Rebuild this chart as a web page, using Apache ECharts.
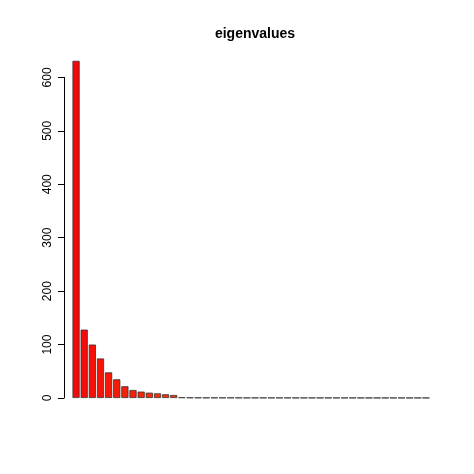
<!DOCTYPE html>
<html>
<head>
<meta charset="utf-8">
<script src="https://cdn.jsdelivr.net/npm/echarts@6/dist/echarts.min.js"></script>
<style>html,body{margin:0;background:#fff}#c{width:474px;height:474px}</style>
</head>
<body>
<div id="c"></div>
<script>
// eigenvalues
var values = [631, 128, 100, 74, 48, 35, 22, 15, 12, 10, 8.7, 7, 5.6, 1.3,
  0.9, 0.8, 0.7, 0.7, 0.6, 0.6, 0.6, 0.5, 0.5, 0.5, 0.5, 0.5, 0.5, 0.4, 0.4, 0.4,
  0.4, 0.4, 0.4, 0.4, 0.4, 0.3, 0.3, 0.3, 0.3, 0.3, 0.3, 0.3, 0.3, 0.3];
var categories = values.map(function (v, i) { return String(i + 1); });

var chart = echarts.init(document.getElementById('c'));
chart.setOption({
  animation: false,
  title: {
    text: 'eigenvalues', left: 250, top: 22, textAlign: 'center',
    textStyle: { fontFamily: 'Liberation Sans', fontSize: 14, fontWeight: 'bold', color: '#000' }
  },
  // grid 0 holds the bars (range 0..640), grid 1 only draws the R-style axis 0..600
  grid: [
    { left: 72, right: 44, top: 56, bottom: 76 },
    { left: 72, right: 44, top: 77.4, bottom: 76 }
  ],
  xAxis: [
    { type: 'category', data: categories, gridIndex: 0,
      axisLine: { show: false }, axisTick: { show: false }, axisLabel: { show: false } },
    { type: 'category', data: categories, gridIndex: 1, show: false }
  ],
  yAxis: [
    { type: 'value', gridIndex: 0, min: 0, max: 640, show: false, splitLine: { show: false } },
    { type: 'value', gridIndex: 1, min: 0, max: 600, interval: 100, offset: 8,
      axisLine: { show: true, lineStyle: { color: '#000' } },
      axisTick: { show: true, length: 6, lineStyle: { color: '#000' } },
      splitLine: { show: false },
      axisLabel: { rotate: 90, margin: 10, color: '#000', fontFamily: 'Liberation Sans', fontSize: 12 } }
  ],
  series: [{
    type: 'bar', data: values, xAxisIndex: 0, yAxisIndex: 0, barCategoryGap: '12%',
    itemStyle: {
      borderColor: '#333', borderWidth: 0.8,
      color: function (p) {
        var g = Math.min(p.dataIndex, 14) * 4;
        return 'rgb(245,' + (8 + g) + ',8)';
      }
    }
  }]
});
</script>
</body>
</html>
